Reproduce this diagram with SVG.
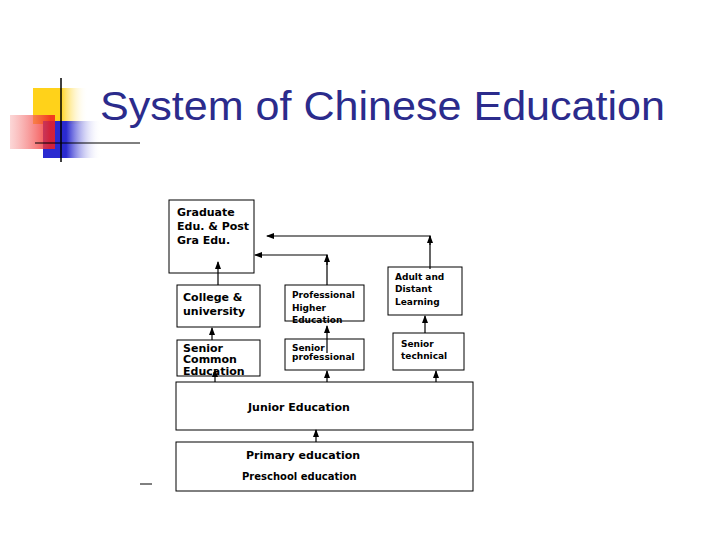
<svg xmlns="http://www.w3.org/2000/svg" width="728" height="546" viewBox="0 0 728 546">
<style>
.b{fill:#fff;stroke:#000;stroke-width:1}
.t{font-family:"DejaVu Sans",sans-serif;font-weight:bold;font-size:11px;fill:#000}
.s{font-family:"DejaVu Sans",sans-serif;font-weight:bold;font-size:9px;fill:#000}
.c{fill:none;stroke:#000;stroke-width:1.2;marker-end:url(#a)}
</style>
<defs>
<marker id="a" markerWidth="8" markerHeight="8" refX="7" refY="4" orient="auto" markerUnits="userSpaceOnUse"><path d="M0,1 L8,4 L0,7Z" fill="#000"/></marker>
<linearGradient id="gy" x1="0" x2="1"><stop offset="0.5" stop-color="#ffd21a"/><stop offset="1" stop-color="#fff" stop-opacity="0"/></linearGradient>
<linearGradient id="gb" x1="0" x2="1"><stop offset="0.4" stop-color="#2a2ad0"/><stop offset="1" stop-color="#fff" stop-opacity="0"/></linearGradient>
<linearGradient id="gr" x1="1" x2="0"><stop offset="0.1" stop-color="#f02020"/><stop offset="1" stop-color="#f8b0b0" stop-opacity="0.6"/></linearGradient>
</defs>
<g id="logo">
<rect x="33" y="88" width="55" height="36" fill="url(#gy)"/>
<rect x="43" y="121" width="58" height="37" fill="url(#gb)"/>
<rect x="10" y="115" width="45" height="34" fill="url(#gr)" opacity="0.85"/>
<line x1="61" y1="78" x2="61" y2="162" stroke="#000" stroke-width="1.5"/>
<line x1="35" y1="143" x2="140" y2="143" stroke="#000" stroke-width="1"/>
</g>
<text x="100" y="120" font-family="'Liberation Sans',sans-serif" font-size="41" fill="#2b2b8c" textLength="565" lengthAdjust="spacingAndGlyphs">System of Chinese Education</text>
<g id="graduate"><rect class="b" x="169" y="200" width="85" height="73"/><text class="t" x="177" y="216">Graduate</text><text class="t" x="177" y="230">Edu. &amp; Post</text><text class="t" x="177" y="244">Gra Edu.</text></g>
<g id="college"><rect class="b" x="177" y="285" width="83" height="42"/><text class="t" x="183" y="301">College &amp;</text><text class="t" x="183" y="315">university</text></g>
<g id="profhigher"><rect class="b" x="285" y="285" width="79" height="36"/><text class="s" x="292" y="298">Professional</text><text class="s" x="292" y="311">Higher</text><text class="s" x="292" y="323">Education</text></g>
<g id="adult"><rect class="b" x="388" y="267" width="74" height="48"/><text class="s" x="395" y="280">Adult and</text><text class="s" x="395" y="292">Distant</text><text class="s" x="395" y="305">Learning</text></g>
<g id="seniorcommon"><rect class="b" x="177" y="340" width="83" height="36"/><text class="t" x="183" y="352">Senior</text><text class="t" x="183" y="363">Common</text><text class="t" x="183" y="375">Education</text></g>
<g id="seniorprof"><rect class="b" x="285" y="339" width="79" height="31"/><text class="s" x="292" y="351">Senior</text><text class="s" x="292" y="360">professional</text></g>
<g id="seniortech"><rect class="b" x="393" y="333" width="71" height="37"/><text class="s" x="401" y="347">Senior</text><text class="s" x="401" y="359">technical</text></g>
<g id="junior"><rect class="b" x="176" y="382" width="297" height="48"/><text class="t" x="248" y="411">Junior Education</text></g>
<g id="primary"><rect class="b" x="176" y="442" width="297" height="49"/><text class="t" x="246" y="459">Primary education</text><text class="t" x="242" y="480" style="font-size:10px">Preschool education</text></g>
<line x1="140" y1="484" x2="152" y2="484" stroke="#000"/>
<g id="connectors">
<polyline class="c" points="430,269 430,236 267,236"/>
<polyline class="c" points="327,285 327,255 255,255"/>
<line class="c" x1="218" y1="285" x2="218" y2="262"/>
<line class="c" x1="212" y1="340" x2="212" y2="328"/>
<line class="c" x1="327" y1="353" x2="327" y2="326"/>
<line class="c" x1="425" y1="333" x2="425" y2="316"/>
<line class="c" x1="215" y1="382" x2="215" y2="370"/>
<line class="c" x1="327" y1="382" x2="327" y2="371"/>
<line class="c" x1="436" y1="382" x2="436" y2="371"/>
<line class="c" x1="316" y1="442" x2="316" y2="430"/>
<line class="c" x1="430" y1="245" x2="430" y2="236"/>
<line class="c" x1="327" y1="265" x2="327" y2="255"/>
</g>
</svg>
